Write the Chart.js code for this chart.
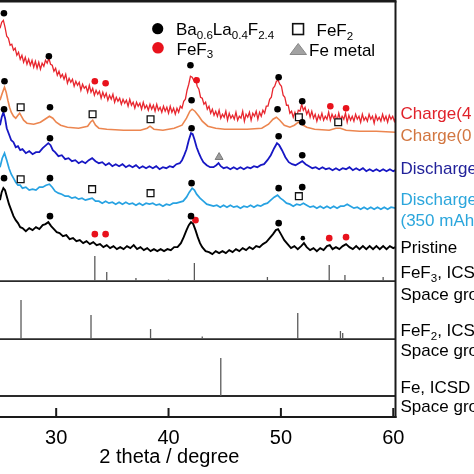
<!DOCTYPE html>
<html><head><meta charset="utf-8">
<script src="https://cdn.jsdelivr.net/npm/chart.js@4.4.1/dist/chart.umd.min.js"></script>
<style>html,body{margin:0;padding:0;background:#fff}canvas{display:block}</style>
</head><body>
<canvas id="c" width="474" height="474"></canvas>
<script>
// ---------- data (2 theta in degree, intensity in arbitrary units incl. stacking offset) ----------
const xTicks = [30, 40, 50, 60];
const xTitle = '2 theta / degree';

const chargeHigh = [[25.00,389],[25.15,395],[25.30,397],[25.45,390],[25.60,381],[25.75,379],[25.90,372],[26.05,373],[26.20,367],[26.35,369],[26.50,362],[26.65,365],[26.80,358],[26.95,362],[27.10,355],[27.25,360],[27.40,353],[27.55,358],[27.70,352],[27.85,357],[28.00,350],[28.15,356],[28.30,349],[28.45,355],[28.60,348],[28.75,354],[28.90,351],[29.05,357],[29.20,354],[29.35,359],[29.50,353],[29.65,352],[29.80,346],[29.95,349],[30.10,342],[30.25,346],[30.40,340],[30.55,343],[30.70,338],[30.85,343],[31.00,334],[31.15,339],[31.30,335],[31.45,338],[31.60,331],[31.75,336],[31.90,332],[32.05,335],[32.20,327],[32.35,333],[32.50,329],[32.65,331],[32.80,325],[32.95,332],[33.10,325],[33.25,329],[33.40,322],[33.55,327],[33.70,323],[33.85,326],[34.00,319],[34.15,325],[34.30,320],[34.45,324],[34.60,317],[34.75,322],[34.90,318],[35.05,323],[35.20,315],[35.35,320],[35.50,316],[35.65,319],[35.80,313],[35.95,318],[36.10,314],[36.25,317],[36.40,311],[36.55,318],[36.70,312],[36.85,315],[37.00,309],[37.15,315],[37.30,311],[37.45,314],[37.60,308],[37.75,315],[37.90,309],[38.05,312],[38.20,307],[38.35,313],[38.50,308],[38.65,312],[38.80,306],[38.95,313],[39.10,307],[39.25,310],[39.40,305],[39.55,311],[39.70,306],[39.85,310],[40.00,304],[40.15,311],[40.30,305],[40.45,309],[40.60,303],[40.75,309],[40.90,305],[41.05,311],[41.20,309],[41.35,316],[41.50,318],[41.65,327],[41.80,333],[41.95,341],[42.10,340],[42.25,337],[42.40,339],[42.55,331],[42.70,328],[42.85,320],[43.00,319],[43.15,313],[43.30,315],[43.45,308],[43.60,311],[43.75,304],[43.90,308],[44.05,302],[44.20,306],[44.35,301],[44.50,307],[44.65,299],[44.80,303],[44.95,300],[45.10,306],[45.25,297],[45.40,304],[45.55,299],[45.70,302],[45.85,298],[46.00,305],[46.15,297],[46.30,301],[46.45,299],[46.60,306],[46.75,296],[46.90,303],[47.05,300],[47.20,305],[47.35,297],[47.50,304],[47.65,301],[47.80,306],[47.95,298],[48.10,305],[48.25,301],[48.40,307],[48.55,304],[48.70,311],[48.85,311],[49.00,318],[49.15,320],[49.30,329],[49.45,331],[49.60,336],[49.75,337],[49.90,333],[50.05,331],[50.20,322],[50.35,320],[50.50,312],[50.65,312],[50.80,304],[50.95,306],[51.10,300],[51.25,305],[51.40,300],[51.55,307],[51.70,306],[51.85,313],[52.00,307],[52.15,310],[52.30,303],[52.45,307],[52.60,300],[52.75,306],[52.90,299],[53.05,303],[53.20,296],[53.35,302],[53.50,298],[53.65,304],[53.80,297],[53.95,301],[54.10,298],[54.25,305],[54.40,297],[54.55,303],[54.70,299],[54.85,302],[55.00,296],[55.15,304],[55.30,297],[55.45,301],[55.60,298],[55.75,304],[55.90,295],[56.05,302],[56.20,297],[56.35,301],[56.50,296],[56.65,303],[56.80,298],[56.95,301],[57.10,295],[57.25,303],[57.40,297],[57.55,300],[57.70,296],[57.85,303],[58.00,298],[58.15,301],[58.30,294],[58.45,302],[58.60,297],[58.75,300],[58.90,296],[59.05,303],[59.20,297],[59.35,301],[59.50,295],[59.65,302],[59.80,298],[59.95,301],[60.10,296],[60.20,299]];

const chargeLow = [[25.0,317],[25.2,324],[25.4,330],[25.55,325],[25.7,317],[25.85,310],[26.0,305],[26.2,301],[26.4,299],[26.6,302],[26.75,304],[26.9,301],[27.1,297],[27.4,294],[28.0,293],[28.6,295],[29.0,298],[29.4,301],[29.7,299],[30.0,295],[30.4,292],[31.0,290],[32.0,289],[32.8,291],[33.05,295],[33.25,297],[33.5,292],[33.8,289],[34.5,288],[36.0,287],[37.5,287],[38.1,289],[38.35,291],[38.7,288],[39.5,287],[40.5,289],[41.2,292],[41.6,299],[41.9,306],[42.1,308],[42.35,306],[42.7,301],[43.0,296],[43.5,291],[44.2,289],[45.0,288],[47.0,288],[48.3,289],[48.9,293],[49.3,298],[49.6,300],[49.9,297],[50.3,292],[50.8,290],[51.2,292],[51.55,295],[51.85,293],[52.3,290],[53.0,288],[54.3,287],[54.9,289],[55.3,289],[55.8,287],[57.0,286],[58.5,286],[60.2,285]];

const discharge = [[25.0,292],[25.15,300],[25.3,305],[25.45,299],[25.6,289],[25.8,283],[26.0,277],[26.2,275],[26.4,270],[26.6,271],[26.8,267],[27.0,268],[27.3,264],[27.6,266],[27.9,263],[28.2,265],[28.5,265],[28.8,269],[29.1,272],[29.3,274],[29.5,272],[29.7,267],[29.9,265],[30.2,261],[30.5,262],[30.8,258],[31.1,259],[31.4,256],[31.7,257],[32.0,254],[32.3,256],[32.6,254],[32.9,257],[33.2,259],[33.5,256],[33.8,254],[34.1,255],[34.4,252],[34.7,254],[35.0,251],[35.3,253],[35.6,251],[35.9,253],[36.2,250],[36.5,252],[36.8,250],[37.1,252],[37.4,249],[37.7,251],[38.0,249],[38.3,251],[38.6,249],[38.9,251],[39.2,248],[39.5,250],[39.8,249],[40.1,251],[40.4,250],[40.7,253],[41.0,254],[41.2,257],[41.4,262],[41.6,268],[41.8,277],[42.0,284],[42.15,283],[42.3,278],[42.5,270],[42.7,264],[42.9,259],[43.1,255],[43.4,252],[43.7,250],[44.0,250],[44.25,252],[44.45,254],[44.65,251],[44.9,249],[45.2,250],[45.5,248],[45.8,250],[46.1,248],[46.4,250],[46.7,248],[47.0,250],[47.3,249],[47.6,251],[47.9,250],[48.2,252],[48.5,253],[48.8,257],[49.1,262],[49.4,269],[49.65,274],[49.85,272],[50.1,267],[50.4,260],[50.7,255],[51.0,253],[51.3,252],[51.6,254],[51.9,256],[52.2,253],[52.5,251],[52.8,249],[53.1,250],[53.4,248],[53.7,250],[54.0,248],[54.3,249],[54.6,247],[54.9,249],[55.2,247],[55.5,249],[55.8,248],[56.1,250],[56.4,247],[56.7,249],[57.0,247],[57.3,249],[57.6,246],[57.9,248],[58.2,246],[58.5,248],[58.8,246],[59.1,248],[59.4,246],[59.7,248],[60.0,246],[60.2,247]];

const discharge350 = [[25.0,250],[25.2,259],[25.4,264],[25.6,257],[25.8,249],[26.0,243],[26.2,239],[26.4,235],[26.6,232],[26.8,232],[27.0,229],[27.3,230],[27.6,227],[27.9,228],[28.2,227],[28.5,230],[28.8,230],[29.1,232],[29.4,233],[29.65,230],[29.9,226],[30.2,224],[30.5,223],[30.8,221],[31.1,221],[31.4,219],[31.7,220],[32.0,218],[32.3,219],[32.6,217],[32.9,218],[33.2,219],[33.5,216],[33.8,216],[34.1,214],[34.4,216],[34.7,214],[35.0,215],[35.3,213],[35.6,215],[35.9,213],[36.2,215],[36.5,213],[36.8,214],[37.1,212],[37.4,214],[37.7,212],[38.0,214],[38.3,213],[38.6,214],[38.9,212],[39.2,213],[39.5,211],[39.8,213],[40.1,212],[40.4,214],[40.7,214],[41.0,215],[41.3,216],[41.6,220],[41.85,225],[42.1,229],[42.3,227],[42.5,223],[42.8,219],[43.1,216],[43.4,213],[43.7,212],[44.0,211],[44.3,212],[44.6,210],[44.9,212],[45.2,210],[45.5,212],[45.8,210],[46.1,211],[46.4,209],[46.7,211],[47.0,210],[47.3,212],[47.6,210],[47.9,212],[48.2,211],[48.5,213],[48.8,214],[49.1,217],[49.4,220],[49.7,222],[49.95,219],[50.2,217],[50.5,214],[50.8,213],[51.1,211],[51.4,213],[51.7,212],[52.0,214],[52.3,212],[52.6,210],[52.9,211],[53.2,209],[53.5,211],[53.8,209],[54.1,211],[54.4,209],[54.7,211],[55.0,209],[55.3,211],[55.6,211],[55.9,213],[56.2,211],[56.5,209],[56.8,210],[57.1,208],[57.4,210],[57.7,208],[58.0,210],[58.3,208],[58.6,210],[58.9,208],[59.2,210],[59.5,208],[59.8,210],[60.2,209]];

const pristine = [[25.0,217],[25.15,225],[25.3,229],[25.45,227],[25.6,221],[25.8,213],[26.0,207],[26.2,201],[26.4,197],[26.6,194],[26.8,190],[27.0,189],[27.3,186],[27.6,189],[27.9,187],[28.2,190],[28.5,188],[28.8,192],[29.05,193],[29.3,195],[29.55,191],[29.8,188],[30.05,185],[30.3,184],[30.6,181],[30.9,182],[31.2,178],[31.5,179],[31.8,176],[32.1,177],[32.4,174],[32.7,176],[33.0,173],[33.3,175],[33.6,172],[33.9,173],[34.2,170],[34.5,172],[34.8,169],[35.1,171],[35.4,168],[35.7,170],[36.0,168],[36.3,171],[36.6,169],[36.9,172],[37.2,168],[37.5,170],[37.8,167],[38.1,169],[38.4,166],[38.7,168],[39.0,166],[39.3,168],[39.6,166],[39.9,168],[40.2,167],[40.5,170],[40.8,170],[41.1,174],[41.35,180],[41.6,187],[41.8,192],[42.0,195],[42.2,193],[42.4,187],[42.6,180],[42.8,174],[43.0,170],[43.3,166],[43.6,165],[43.9,163],[44.2,166],[44.5,164],[44.8,166],[45.1,164],[45.4,167],[45.7,165],[46.0,168],[46.3,166],[46.6,169],[46.9,167],[47.2,170],[47.5,168],[47.8,171],[48.1,170],[48.4,173],[48.7,175],[49.0,179],[49.3,183],[49.55,187],[49.75,188],[50.0,183],[50.3,177],[50.6,173],[50.9,169],[51.2,171],[51.5,168],[51.8,171],[52.05,174],[52.3,170],[52.6,167],[52.9,169],[53.2,166],[53.5,169],[53.8,167],[54.1,171],[54.35,172],[54.6,168],[54.9,170],[55.2,168],[55.5,171],[55.8,173],[56.1,170],[56.4,168],[56.7,171],[57.0,168],[57.3,171],[57.6,168],[57.9,171],[58.2,168],[58.5,171],[58.8,168],[59.1,171],[59.4,168],[59.7,171],[60.0,169],[60.2,170]];

// reference stick patterns: [2 theta, relative height]; panel base levels
const fef3Ref = [[33.44,25],[34.5,9],[37.1,3],[40.0,1.5],[42.3,18],[44.0,1],[48.8,4],[54.3,16],[55.7,6],[59.1,4]];
const fef2Ref = [[26.87,39],[33.1,24],[38.4,10],[43.0,2.5],[51.5,26],[55.3,8],[55.5,6]];
const feRef = [[44.65,38]];
const refBase = [136, 78, 21];

// phase markers [2 theta, level]
const baPeaks = [[25.35,404],[29.35,361],[41.95,352],[49.8,340],[51.9,316],
  [25.4,336],[29.45,310],[42.05,317],[49.7,308],[51.9,295],
  [25.36,308],[29.45,279],[42.05,289],[49.8,281],[51.9,262],
  [29.45,239],[42.05,234],[49.8,229],[51.9,230],
  [25.36,239],[29.45,201],[42.0,201],[49.8,194]];
const baPeaksSmall = [[51.95,179]];
const fef3Peaks = [[33.44,336],[34.4,334],[42.5,337],[54.4,311],[55.8,309],
  [33.44,183],[34.4,183],[42.4,197],[54.3,179],[55.8,180]];
const fef2Peaks = [[26.84,310],[33.24,303],[38.4,298],[51.6,300],[55.1,295],
  [26.84,238],[33.2,228],[38.4,224],[51.6,221]];
const fePeaks = [[44.5,260]];

// series labels at right: [text, colour, level]
const seriesLabels = [
  ['Charge(4', '#e0222b', 304],
  ['Charge(0', '#d27640', 282],
  ['Discharge', '#22229a', 249],
  ['Discharge', '#2ba6dc', 218],
  ['(350 mAh', '#2ba6dc', 197],
  ['Pristine', '#000000', 170],
  ['FeF_3, ICSD', '#000000', 145],
  ['Space group', '#000000', 123],
  ['FeF_2, ICSD', '#000000', 87],
  ['Space group', '#000000', 67],
  ['Fe, ICSD', '#000000', 30],
  ['Space group', '#000000', 11]
];

// ---------- build ----------
const FONT = "'Liberation Sans', Arial, sans-serif";
const pts = a => a.map(p => ({x: p[0], y: p[1]}));
function sticks(list, base){
  const out = [];
  list.forEach(s => { out.push({x:s[0], y:base}, {x:s[0], y:base + s[1]}, {x:s[0], y:null}); });
  return out;
}
const X_MIN = 25, X_MAX = 60.2;
function baseline(b){ return [{x:X_MIN, y:b}, {x:X_MAX, y:b}]; }

const traceDs = (data, color, w) => ({data: pts(data), borderColor: color, borderWidth: w, pointRadius: 0, tension: 0, order: 2});
const markDs = (data, style, fill, stroke, r, bw) => ({data: pts(data), showLine: false, pointStyle: style, pointRadius: r, pointHoverRadius: r, pointBackgroundColor: fill, pointBorderColor: stroke, pointBorderWidth: bw, order: 0});
const stickDs = (data, color, w) => ({data, borderColor: color, borderWidth: w, pointRadius: 0, spanGaps: false, tension: 0, order: 3});

const datasets = [
  traceDs(chargeHigh, '#e8262e', 1.3),
  traceDs(chargeLow, '#ec8650', 1.6),
  traceDs(discharge, '#1717c4', 1.8),
  traceDs(discharge350, '#27a2e2', 1.7),
  traceDs(pristine, '#000000', 1.9),
  stickDs(sticks(fef3Ref, refBase[0]), '#5a5a5a', 1.3),
  stickDs(sticks(fef2Ref, refBase[1]), '#5a5a5a', 1.3),
  stickDs(sticks(feRef, refBase[2]), '#5a5a5a', 1.3),
  stickDs(baseline(refBase[0]), '#2a2a2a', 1.8),
  stickDs(baseline(refBase[1]), '#2a2a2a', 1.8),
  stickDs(baseline(refBase[2]), '#2a2a2a', 1.8),
  markDs(baPeaks, 'circle', '#000', '#000', 3.3, 0),
  markDs(baPeaksSmall, 'circle', '#000', '#000', 2.3, 0),
  markDs(fef3Peaks, 'circle', '#e8121c', '#e8121c', 3.3, 0),
  markDs(fef2Peaks, 'rect', '#fff', '#111', 4.8, 1.3),
  markDs(fePeaks, 'triangle', '#9d9d9d', '#7a7a7a', 4.6, 1)
];

function drawRich(ctx, str, x, y, size, color){
  const parts = str.split(/(_\{[^}]*\}|_.)/).filter(s => s);
  ctx.fillStyle = color;
  ctx.textBaseline = 'alphabetic';
  ctx.textAlign = 'left';
  let cx = x;
  for (const p of parts){
    const sub = p.startsWith('_');
    const t = sub ? p.replace(/^_\{?/, '').replace(/\}$/, '') : p;
    ctx.font = (sub ? size * 0.68 : size) + 'px ' + FONT;
    ctx.fillText(t, cx, sub ? y + 3.5 : y);
    cx += ctx.measureText(t).width;
  }
}

const decor = {
  id: 'decor',
  afterDatasetsDraw(chart){
    const {ctx, chartArea: a, scales: {x, y}} = chart;
    ctx.save();
    ctx.strokeStyle = '#1a1a1a';
    ctx.lineWidth = 2.6;
    ctx.beginPath(); ctx.moveTo(a.left, a.top); ctx.lineTo(a.right + 1, a.top); ctx.stroke();
    ctx.lineWidth = 2;
    ctx.beginPath(); ctx.moveTo(a.right, a.top); ctx.lineTo(a.right, a.bottom + 1); ctx.stroke();
    ctx.beginPath(); ctx.moveTo(a.left, a.bottom); ctx.lineTo(a.right + 1, a.bottom); ctx.stroke();
    // inward ticks
    xTicks.forEach(v => {
      const px = x.getPixelForValue(v);
      ctx.beginPath(); ctx.moveTo(px, a.bottom); ctx.lineTo(px, a.bottom - 9); ctx.stroke();
    });
    // axis title
    ctx.fillStyle = '#000';
    ctx.font = '20px ' + FONT;
    ctx.textAlign = 'center';
    ctx.textBaseline = 'middle';
    ctx.fillText(xTitle, x.getPixelForValue(40.07), 457);
    // series labels
    seriesLabels.forEach(l => drawRich(ctx, l[0], a.right + 5, y.getPixelForValue(l[2]) + 6, 17, l[1]));
    // legend
    ctx.fillStyle = '#000';
    ctx.beginPath(); ctx.arc(157.7, 28.7, 5.6, 0, Math.PI * 2); ctx.fill();
    ctx.fillStyle = '#e8121c';
    ctx.beginPath(); ctx.arc(158, 47.8, 5.8, 0, Math.PI * 2); ctx.fill();
    ctx.strokeStyle = '#111'; ctx.lineWidth = 1.6;
    ctx.strokeRect(292.7, 23.7, 10.8, 10.8);
    ctx.fillStyle = '#a2a2a2'; ctx.strokeStyle = '#888'; ctx.lineWidth = 1;
    ctx.beginPath(); ctx.moveTo(290, 54.5); ctx.lineTo(306.5, 54.5); ctx.lineTo(298.2, 43.5); ctx.closePath(); ctx.fill(); ctx.stroke();
    drawRich(ctx, 'Ba_{0.6}La_{0.4}F_{2.4}', 176, 35, 17, '#000');
    drawRich(ctx, 'FeF_3', 176.5, 54.5, 17, '#000');
    drawRich(ctx, 'FeF_2', 316.5, 36, 17, '#000');
    drawRich(ctx, 'Fe metal', 309, 55.7, 17, '#000');
    ctx.restore();
  }
};

new Chart(document.getElementById('c'), {
  type: 'line',
  data: {datasets},
  options: {
    responsive: false,
    animation: false,
    devicePixelRatio: 1,
    layout: {autoPadding: false, padding: {left: 0, right: 78.5, top: 1.3, bottom: 0}},
    plugins: {legend: {display: false}, tooltip: {enabled: false}},
    scales: {
      x: {
        type: 'linear', min: X_MIN, max: X_MAX,
        afterBuildTicks: s => { s.ticks = xTicks.map(v => ({value: v})); },
        afterFit: s => { s.height = 57; },
        grid: {display: false, drawTicks: false},
        border: {display: false},
        ticks: {color: '#000', font: {family: FONT, size: 20}, padding: 9, maxRotation: 0, autoSkip: false}
      },
      y: {type: 'linear', min: 0, max: 416, display: false}
    }
  },
  plugins: [decor]
});
</script>
</body></html>
